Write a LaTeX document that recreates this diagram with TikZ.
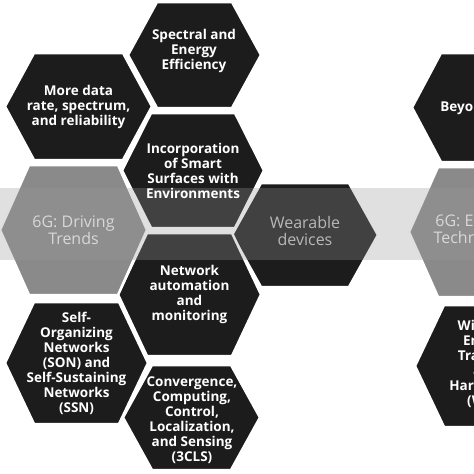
\documentclass[tikz,border=0pt]{standalone}
\usepackage{fontspec}
\setsansfont{Open Sans}
\usetikzlibrary{calc}
\definecolor{hexdark}{HTML}{1C1C1C}
\definecolor{hexgray}{HTML}{8A8A8A}
\definecolor{bandgray}{HTML}{989898}
\definecolor{textlight}{HTML}{D8D8D8}

% hexagon cell: name, centre x, centre y, half width, half height, style
\newcommand{\hexcell}[6]{%
  \coordinate (#1) at (#2,#3);
  \path[#6] ($(#1)+(-#4,0)$) -- ++(29,-#5) -- ($(#1)+(#4-29,-#5)$)
    -- ($(#1)+(#4,0)$) -- ($(#1)+(#4-29,#5)$) -- ($(#1)+(-#4+29,#5)$) -- cycle;
}

\begin{document}
\begin{tikzpicture}[
    x=1pt, y=-1pt,
    % ── Cell styles ──────────────────────────────────────────────────────
    darkcell/.style={fill=hexdark, draw=white, line width=2.5pt},
    graycell/.style={fill=hexgray, draw=white, line width=2.5pt},
    band/.style={fill=bandgray, opacity=0.3},
    % ── Text styles ──────────────────────────────────────────────────────
    celltext/.style={
        text=white, align=center, inner sep=0pt,
        font=\sffamily\bfseries\fontsize{13.5}{15}\selectfont
    },
    trendtext/.style={
        text=textlight, align=center, inner sep=0pt,
        font=\sffamily\fontsize{16}{16.5}\selectfont
    }
]
\useasboundingbox (0,0) rectangle (474,474);
\clip (0,0) rectangle (474,474);

% ═══════════════════════════════════════════════════════════════════════
% 1. Honeycomb cells
% ═══════════════════════════════════════════════════════════════════════
\hexcell{hexwear}{305}{235}{73}{52}{darkcell}
\hexcell{hexmore}{78.5}{106.5}{73.5}{53.5}{darkcell}
\hexcell{hexspectral}{194.5}{55}{66.5}{53}{darkcell}
\hexcell{hexsmart}{193}{170.5}{71}{57.5}{darkcell}
\hexcell{hexnetwork}{189.5}{294.5}{71.5}{61.5}{darkcell}
\hexcell{hexconv}{191.5}{417.5}{68.5}{52.5}{darkcell}
\hexcell{hexdriving}{73.5}{230}{73.5}{65}{graycell}
\hexcell{hexson}{76.5}{363}{71.5}{61}{darkcell}
\hexcell{hexbeyond}{484}{107.5}{72}{54.5}{darkcell}
\hexcell{hexenabling}{481}{232}{72}{65}{graycell}
\hexcell{hexwet}{487}{366}{72}{61}{darkcell}

% ═══════════════════════════════════════════════════════════════════════
% 2. Horizontal band
% ═══════════════════════════════════════════════════════════════════════
\fill[band] (0,188) rectangle (474,260);

% ═══════════════════════════════════════════════════════════════════════
% 3. Cell texts
% ═══════════════════════════════════════════════════════════════════════
\node[celltext] (more) at (hexmore) {More data\\rate, spectrum,\\and reliability};
\node[celltext] (spectral) at (194,51) {Spectral and\\Energy\\Efficiency};
\node[celltext] (smart) at (hexsmart) {Incorporation\\of Smart\\Surfaces with\\Environments};
\node[celltext] (network) at (hexnetwork) {Network\\automation\\and\\monitoring};
\node[celltext] (conv) at (192,420) {Convergence,\\Computing,\\Control,\\Localization,\\and Sensing\\(3CLS)};
\node[celltext] (son) at (hexson) {Self-\\Organizing\\Networks\\(SON) and\\Self-Sustaining\\Networks\\(SSN)};
\node[celltext] (beyond) at (476,108) {Beyond 5G};
\node[celltext] (wet) at (486,364) {Wireless\\Energy\\Transfer\\and\\Harvesting\\(WET)};

\node[trendtext] (driving) at (hexdriving) {6G: Driving\\Trends};
\node[trendtext, text=textlight!85!black] (wear) at (305,231) {Wearable\\devices};
\node[trendtext] (enabling) at (482,231) {6G: Enabling\\Technologies};

\end{tikzpicture}
\end{document}
